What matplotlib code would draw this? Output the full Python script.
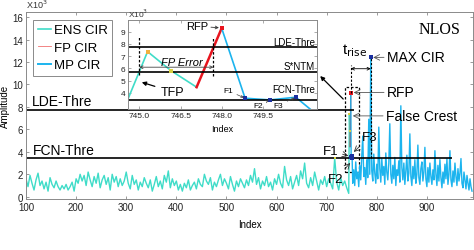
import matplotlib
matplotlib.use("Agg")
import matplotlib.pyplot as plt
import numpy as np
from matplotlib.lines import Line2D
from matplotlib.patches import Rectangle

plt.rcParams['font.family'] = ['Liberation Sans', 'DejaVu Sans']

# amplitudes are in units of 10^3
ens_idx = list(np.arange(100, 745, 4)) + [745.3, 746.15, 747.08]
ens_amp = [
    1.6, 0.9, 1.9, 1.2, 0.6, 1.5, 2.1, 1.0, 1.4, 0.7,
    1.3, 0.5, 1.7, 1.1, 0.8, 1.4, 0.9, 0.6, 1.0, 0.7,
    1.1, 0.6, 0.9, 1.3, 0.5, 1.6, 1.2, 2.0, 1.4, 1.9,
    1.0, 2.2, 1.5, 0.9, 1.8, 1.2, 2.1, 0.8, 1.5, 1.9,
    1.1, 1.7, 0.6, 2.0, 1.3, 1.8, 0.9, 1.6, 1.0, 1.4,
    2.2, 1.2, 0.7, 1.9, 1.1, 1.5, 0.6, 1.3, 0.9, 1.7,
    1.2, 0.8, 1.5, 0.5, 1.1, 1.8, 0.9, 1.4, 0.7, 1.9,
    1.3, 2.3, 0.8, 1.6, 1.0, 1.4, 0.6, 1.1, 0.5, 1.2,
    0.8, 1.5, 0.6, 1.0, 1.3, 0.7, 1.6, 1.1, 0.9, 2.0,
    1.4, 1.1, 1.7, 0.6, 1.3, 0.9, 1.5, 2.0, 1.0, 1.6,
    1.2, 0.7, 1.8, 1.1, 0.5, 1.4, 0.9, 1.6, 1.2, 0.8,
    1.5, 1.0, 1.9, 1.3, 2.5, 1.1, 1.7, 0.7, 1.4, 1.0,
    1.8, 0.9, 1.3, 0.6, 1.6, 1.1, 2.0, 1.2, 0.8, 2.7,
    1.5, 1.0, 1.8, 0.7, 1.3, 1.9, 1.0, 2.3, 1.6, 3.0,
    1.2, 0.8, 1.7, 1.0, 2.2, 1.4, 0.6, 1.5, 1.1, 1.8,
    0.9, 1.6, 1.2, 0.7, 3.45, 1.3, 0.6, 1.7, 1.0, 1.4,
    0.8, 0.3,
    7.37, 5.82, 4.47,
]
fp_idx = [747.08, 747.99]
fp_amp = [4.47, 9.28]
mp_idx = [747.99, 748.84, 749.74, 750.68] + list(np.arange(752, 991, 2))
mp_amp = [
    9.28, 3.57, 3.43, 3.65,
    1.2, 2.4, 1.0, 3.1, 1.6, 2.2, 0.9, 2.8, 1.5, 3.6,
    5.4, 1.8, 2.6, 1.1, 3.3, 1.7, 6.9, 2.0, 12.4, 2.3,
    1.4, 3.8, 2.1, 1.2, 2.9, 1.6, 6.2, 2.5, 1.3, 3.4,
    1.9, 2.7, 1.1, 3.9, 2.2, 1.5, 3.0, 6.5, 2.0, 1.2,
    2.8, 1.6, 3.5, 1.0, 2.4, 1.9, 3.2, 1.3, 8.1, 2.6,
    1.5, 3.0, 1.1, 2.3, 3.7, 1.4, 2.1, 5.6, 1.8, 1.0,
    2.7, 1.6, 3.3, 1.2, 2.0, 4.6, 1.7, 1.1, 2.5, 3.1,
    1.4, 2.2, 4.4, 1.6, 0.9, 2.6, 1.3, 3.0, 1.8, 1.1,
    2.4, 1.5, 4.1, 2.0, 1.0, 2.8, 1.4, 3.3, 1.7, 0.8,
    2.2, 1.2, 2.9, 1.6, 3.4, 1.1, 2.0, 4.1, 1.5, 0.9,
    2.3, 1.3, 3.0, 1.8, 1.0, 2.5, 1.4, 2.1, 3.4, 1.2,
    0.8, 2.2, 1.5, 0.7, 1.9, 1.2, 0.6, 1.6, 0.9, 0.5,
]

LDE_THRE = 7.75
SNTM = 5.7
FCN_THRE = 3.45

# key points
crest_idx, crest_amp = [745.3], [7.37]
yellow_idx, yellow_amp = [716, 746.15], [3.45, 5.82]
rfp_idx, rfp_amp = [747.99], [9.28]
f_idx, f_amp = [748.84, 749.74, 750.68], [3.57, 3.43, 3.65]
max_idx, max_amp = [788], [12.4]

C_ENS = '#3fdcc8'
C_FP = '#f07070'
C_MP = '#1cb4ee'
C_RED = '#e8141e'
C_NAVY = '#1a2fa0'
C_ORANGE = '#f0b040'
C_YELLOW = '#d8d040'
GRAY = '#8a8a8a'

fig = plt.figure(figsize=(4.74, 2.51), dpi=100)
ax = fig.add_axes([26 / 474, 1 - 200 / 251, 447 / 474, 187 / 251])

ax.plot(ens_idx, ens_amp, color=C_ENS, lw=1.0)
ax.plot(fp_idx, fp_amp, color=C_RED, lw=0.9)
ax.plot(mp_idx, mp_amp, color=C_MP, lw=1.0)
ax.hlines(LDE_THRE, 100, 755, color='black', lw=1.2)
ax.hlines(FCN_THRE, 100, 950, color='black', lw=1.2)
ax.plot(yellow_idx, yellow_amp, 's', color=C_YELLOW, ms=1.8, mew=0)
ax.plot(crest_idx, crest_amp, 's', color=C_YELLOW, ms=1.8, mew=0)
ax.plot(rfp_idx, rfp_amp, 's', color=C_RED, ms=2.2, mew=0)
ax.plot(f_idx, f_amp, 's', color=C_NAVY, ms=2.2, mew=0)
ax.plot(max_idx, max_amp, 's', color=C_NAVY, ms=2.2, mew=0)

ax.set_xlim(100, 992)
ax.set_ylim(-0.2, 16.45)
ax.set_xticks(range(100, 901, 100))
ax.set_yticks(range(0, 17, 2))
ax.tick_params(direction='in', length=2.5, width=0.6, labelsize=7, colors='#222222',
               top=True, right=True, pad=2)
ax.tick_params(axis='both', color=GRAY)
for s in ax.spines.values():
    s.set_color(GRAY)
    s.set_linewidth(0.7)
ax.set_xlabel('Index', fontsize=7, labelpad=5)
ax.set_ylabel('Amplitude', fontsize=7, labelpad=2)
ax.text(0, 1.01, r'X10$^3$', transform=ax.transAxes, fontsize=6.5, color='#333333',
        va='bottom', ha='left')

handles = [Line2D([], [], color=C_ENS, lw=1.2),
           Line2D([], [], color=C_FP, lw=0.6),
           Line2D([], [], color=C_MP, lw=1.4)]
leg = ax.legend(handles, ['ENS CIR', 'FP CIR', 'MP CIR'], loc='upper left',
                bbox_to_anchor=(0.002, 0.995), fontsize=9.5, handlelength=1.0,
                handletextpad=0.2, borderpad=0.35, labelspacing=0.4,
                fancybox=False, framealpha=1)
leg.get_frame().set_edgecolor(GRAY)
leg.get_frame().set_linewidth(0.7)

ax.text(926, 14.9, 'NLOS', family='Liberation Serif', fontsize=11.5, ha='center', va='center')
ax.text(112, LDE_THRE + 0.15, 'LDE-Thre', fontsize=10, ha='left', va='bottom')
ax.text(114, FCN_THRE + 0.1, 'FCN-Thre', fontsize=10, ha='left', va='bottom')

arr = dict(arrowstyle='->', color='#555555', lw=0.6, shrinkA=0, shrinkB=1)
ax.annotate('MAX CIR', xy=(max_idx[0] + 2, max_amp[0]), xytext=(820, 12.45),
            fontsize=10, va='center', arrowprops=arr)
ax.annotate('RFP', xy=(rfp_idx[0] + 3, rfp_amp[0]), xytext=(820, 9.3),
            fontsize=10, va='center', arrowprops=arr)
ax.annotate('False Crest', xy=(crest_idx[0] + 4, 7.2), xytext=(818, 7.2),
            fontsize=10, va='center', arrowprops=arr)
farr = dict(arrowstyle='->', color='#333333', lw=0.6, shrinkA=1, shrinkB=1)
ax.annotate('F1', xy=(746, 3.6), xytext=(708, 4.1), fontsize=9.5, ha='center', va='center',
            arrowprops=farr)
ax.annotate('F2', xy=(749, 3.1), xytext=(718, 1.6), fontsize=9.5, ha='center', va='center',
            arrowprops=farr)
ax.annotate('F3', xy=(752, 3.9), xytext=(785, 5.3), fontsize=9.5, ha='center', va='center',
            arrowprops=farr)

# dashed box around the first path region
ax.add_patch(Rectangle((737, 2.2), 28, 7.6, fill=False, ls=(0, (2, 1.5)), lw=0.9, color='black'))
ax.vlines(rfp_idx[0], rfp_amp[0], 11.7, colors='black', linestyles=(0, (2, 1.5)), lw=0.8)
ax.vlines(max_idx[0], FCN_THRE, max_amp[0], colors='black', linestyles=(0, (2, 1.5)), lw=0.8)
ax.annotate('', xy=(rfp_idx[0], 11.4), xytext=(max_idx[0], 11.4),
            arrowprops=dict(arrowstyle='<->', color='black', lw=0.6, shrinkA=0, shrinkB=0,
                            mutation_scale=5))
ax.text(730, 13.1, r't$_{\mathrm{rise}}$', fontsize=11, ha='left', va='center')
ax.annotate('', xy=(687, 10.75), xytext=(733, 8.7),
            arrowprops=dict(arrowstyle='-|>', color='black', lw=0.9, mutation_scale=6,
                            shrinkA=0, shrinkB=0))

# inset
ai = fig.add_axes([128 / 474, 1 - 110 / 251, 189 / 474, 89 / 251])
ai.set_facecolor('white')
ai.plot(ens_idx, ens_amp, color=C_ENS, lw=1.2)
ai.plot(fp_idx, fp_amp, color=C_RED, lw=1.8)
ai.plot(mp_idx, mp_amp, color=C_MP, lw=1.2)
for th in (LDE_THRE, SNTM, FCN_THRE):
    ai.axhline(th, color='black', lw=1.2)
ai.plot(crest_idx, crest_amp, 's', color=C_ORANGE, ms=2.2, mew=0)
ai.plot(yellow_idx[1:], yellow_amp[1:], 's', color=C_YELLOW, ms=2.2, mew=0)
ai.plot(rfp_idx, rfp_amp, 's', color=C_RED, ms=2.6, mew=0)
ai.plot(f_idx, f_amp, 's', color=C_NAVY, ms=2.4, mew=0)
ai.set_xlim(744.59, 751.45)
ai.set_ylim(2.69, 9.95)
ai.set_xticks([745.0, 746.5, 748.0, 749.5])
ai.set_xticklabels(['745.0', '746.5', '748.0', '749.5'])
ai.set_yticks(range(4, 10))
ai.tick_params(direction='in', length=2, width=0.5, labelsize=6, colors='#222222',
               top=True, right=True, pad=2)
ai.tick_params(axis='both', color=GRAY)
for s in ai.spines.values():
    s.set_color(GRAY)
    s.set_linewidth(0.7)
ai.set_xlabel('Index', fontsize=6.5, labelpad=4)
ai.text(0, 1.01, r'X10$^3$', transform=ai.transAxes, fontsize=6, color='#333333',
        va='bottom', ha='left')

ai.text(751.37, LDE_THRE + 0.4, 'LDE-Thre', fontsize=7, ha='right', va='center')
ai.text(751.37, SNTM + 0.5, 'S*NTM', fontsize=7, ha='right', va='center')
ai.text(751.37, 4.3, 'FCN-Thre', fontsize=7, ha='right', va='center')

dash = (0, (2, 1.5))
ai.vlines([745.0, 747.69], [5.5, 5.4], [8.6, 8.55], colors='black', linestyles=dash, lw=0.9)
ai.annotate('', xy=(745.0, 6.1), xytext=(747.69, 6.1),
            arrowprops=dict(arrowstyle='<->', color='#444444', lw=0.6, shrinkA=0, shrinkB=0,
                            mutation_scale=5))
ai.text(746.54, 6.55, 'FP Error', fontsize=8, style='italic', ha='center', va='center')
ai.annotate('TFP', xy=(745.09, 4.87), xytext=(746.19, 4.1), fontsize=9, ha='center', va='center',
            arrowprops=dict(arrowstyle='-|>', color='black', lw=0.9, mutation_scale=6,
                            shrinkA=2, shrinkB=0))
ai.annotate('RFP', xy=(747.89, 9.32), xytext=(747.5, 9.44), fontsize=8, ha='right', va='center',
            arrowprops=dict(arrowstyle='->', color='#333333', lw=0.6, shrinkA=0, shrinkB=0,
                            mutation_scale=5))
sarr = dict(arrowstyle='->', color='#444444', lw=0.5, shrinkA=1, shrinkB=1, mutation_scale=4)
ai.annotate('F1', xy=(f_idx[0], f_amp[0]), xytext=(748.22, 4.19), fontsize=6,
            ha='center', va='center', arrowprops=sarr)
ai.annotate('F2', xy=(f_idx[1], f_amp[1]), xytext=(749.31, 3.0), fontsize=6,
            ha='center', va='center', arrowprops=sarr)
ai.annotate('F3', xy=(f_idx[2], f_amp[2]), xytext=(750.05, 3.0), fontsize=6,
            ha='center', va='center', arrowprops=sarr)

fig.savefig('out.png', dpi=100)
